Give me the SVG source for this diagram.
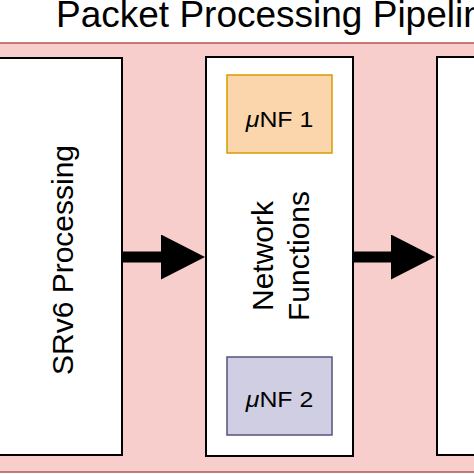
<svg xmlns="http://www.w3.org/2000/svg" width="474" height="474" viewBox="0 0 474 474">
  <defs>
    <style>
      text { font-family: "Liberation Sans", Arial, sans-serif; fill: #000; }
      .stage { fill: #ffffff; stroke: #000000; stroke-width: 2; }
      .nf1 { fill: #fbd6ad; stroke: #d79b00; stroke-width: 1.5; }
      .nf2 { fill: #d0cee2; stroke: #56517e; stroke-width: 1.5; }
      .lbl { font-size: 30px; text-anchor: middle; }
      .nf { font-size: 22px; text-anchor: middle; }
      .conn { stroke: #000; stroke-width: 11; fill: none; }
    </style>
    <marker id="ah" markerUnits="userSpaceOnUse" markerWidth="44" markerHeight="45" refX="9" refY="22.5" orient="auto">
      <path d="M0,0 L44,22.5 L0,45 Z" fill="#000"/>
    </marker>
  </defs>
  <rect x="0" y="0" width="474" height="474" fill="#ffffff"/>
  <text x="56" y="27" font-size="37">Packet Processing Pipeline</text>
  <g id="pipeline">
    <rect x="-5" y="43" width="484" height="429" fill="#f8cecc" stroke="#b85450" stroke-width="1.5"/>
  </g>
  <g id="srv6">
    <rect class="stage" x="-5" y="58" width="127" height="397"/>
    <text class="lbl" transform="translate(73,260) rotate(-90)">SRv6 Processing</text>
  </g>
  <g id="nfs">
    <rect class="stage" x="206" y="57" width="147" height="399"/>
    <text class="lbl" transform="translate(273,256) rotate(-90)">Network</text>
    <text class="lbl" transform="translate(309,256) rotate(-90)">Functions</text>
  </g>
  <g id="unf1">
    <rect class="nf1" x="227" y="75" width="105" height="78"/>
    <text class="nf" transform="translate(279.5,127) scale(1.13,1)"><tspan font-style="italic">μ</tspan>NF 1</text>
  </g>
  <g id="unf2">
    <rect class="nf2" x="227" y="357" width="105" height="78"/>
    <text class="nf" transform="translate(279.5,407) scale(1.13,1)"><tspan font-style="italic">μ</tspan>NF 2</text>
  </g>
  <g id="next">
    <rect class="stage" x="437" y="57" width="45" height="398"/>
  </g>
  <g id="connectors">
    <line class="conn" x1="122" y1="257" x2="170" y2="257" marker-end="url(#ah)"/>
    <line class="conn" x1="353" y1="257" x2="400" y2="257" marker-end="url(#ah)"/>
  </g>
</svg>
